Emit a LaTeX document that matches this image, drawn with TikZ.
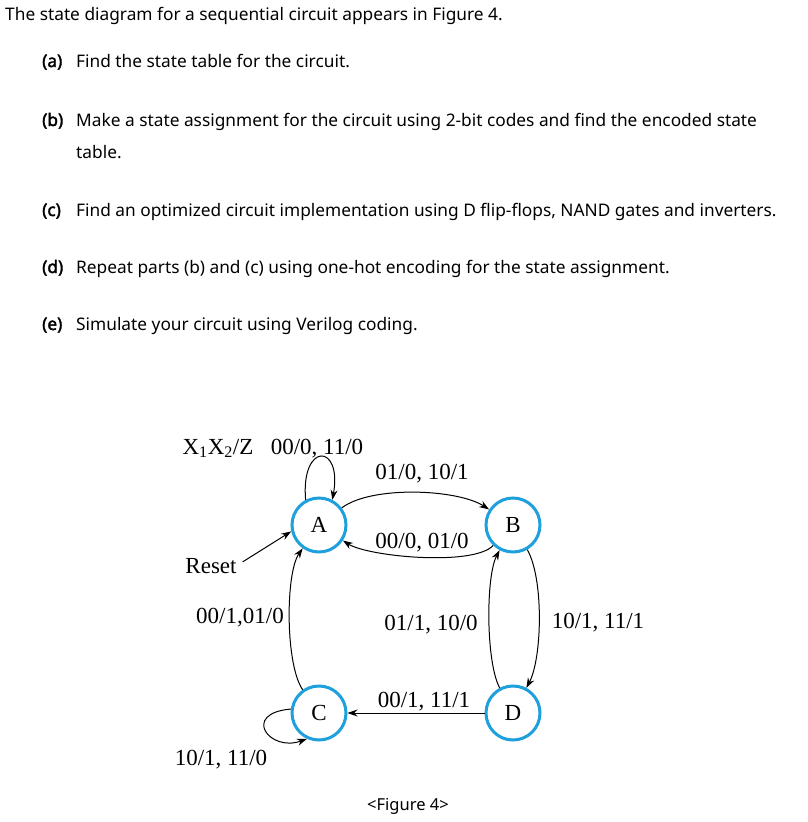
\documentclass[tikz,border=0pt]{standalone}
\usepackage{fontspec}
\setmainfont{Liberation Serif}
\newfontfamily\qfont{Noto Sans}
\newfontfamily\qbold{Noto Sans}[FakeBold=2]
\usetikzlibrary{arrows.meta}
\definecolor{stateblue}{RGB}{30,160,220}

\begin{document}
\begin{tikzpicture}[state/.style={draw=stateblue,circle,line width=3pt,minimum size=54pt,inner sep=0pt,font=\fontsize{23}{25}\selectfont},
  line/.style={-{Stealth[length=10pt,width=7pt]},line width=1pt},
  lbl/.style={anchor=base,inner sep=0pt,font=\fontsize{23}{25}\selectfont},
  txt/.style={anchor=base west,inner sep=0pt,font=\qfont\fontsize{17.3}{22}\selectfont},
  tag/.style={anchor=base west,inner sep=0pt,font=\qbold\fontsize{17.3}{22}\selectfont},
  x=1pt,y=1pt]
\useasboundingbox (0,0) rectangle (808,-822);
% question text
\node[txt] (t0) at (5,-20) {The state diagram for a sequential circuit appears in Figure 4.};
\node[tag] (ta) at (42,-67) {(a)};
\node[txt] (tat) at (76,-67) {Find the state table for the circuit.};
\node[tag] (tb) at (42,-126) {(b)};
\node[txt] (tbt) at (76,-126) {Make a state assignment for the circuit using 2-bit codes and find the encoded state};
\node[txt] (tbu) at (76,-158) {table.};
\node[tag] (tc) at (42,-216) {(c)};
\node[txt] (tct) at (76,-216) {Find an optimized circuit implementation using D flip-flops, NAND gates and inverters.};
\node[tag] (td) at (42,-273) {(d)};
\node[txt] (tdt) at (76,-273) {Repeat parts (b) and (c) using one-hot encoding for the state assignment.};
\node[tag] (te) at (42,-330) {(e)};
\node[txt] (tet) at (76,-330) {Simulate your circuit using Verilog coding.};
% states
\node[state] (A) at (319,-525) {A};
\node[state] (B) at (513,-525) {B};
\node[state] (C) at (319,-713) {C};
\node[state] (D) at (513,-713) {D};
% labels
\node[lbl] (key) at (218,-454) {X\textsubscript{1}X\textsubscript{2}/Z};
\node[lbl] (lAA) at (317,-454) {00/0, 11/0};
\node[lbl] (lAB) at (422,-479) {01/0, 10/1};
\node[lbl] (lBA) at (422,-548) {00/0, 01/0};
\node[lbl] (rst) at (211,-573) {Reset};
\node[lbl] (lCA) at (240,-623) {00/1,01/0};
\node[lbl] (lDB) at (431,-630) {01/1, 10/0};
\node[lbl] (lBD) at (598,-628) {10/1, 11/1};
\node[lbl] (lDC) at (424,-707) {00/1, 11/1};
\node[lbl] (lCC) at (221,-765) {10/1, 11/0};
\node[txt,anchor=base,font=\qfont\fontsize{16.5}{18}\selectfont] (fig) at (408,-810) {<Figure 4>};
% transitions
\draw[line] (A.118) .. controls +(95:58) and +(80:58) .. (A.62);
\draw[line] (A) to[out=37,in=147,looseness=0.65] (B);
\draw[line] (B) to[out=226,in=-33,looseness=0.5] (A);
\draw[line,shorten <=7pt] (rst.east) -- (A.193);
\draw[line] (C) to[out=125,in=235,looseness=0.55] (A);
\draw[line] (D) to[out=118,in=242,looseness=0.55] (B);
\draw[line] (B) to[out=-60,in=62,looseness=0.62] (D);
\draw[line] (D) -- (C);
\draw[line] (C.172) .. controls +(185:50) and +(200:40) .. (C.245);
\end{tikzpicture}
\end{document}
